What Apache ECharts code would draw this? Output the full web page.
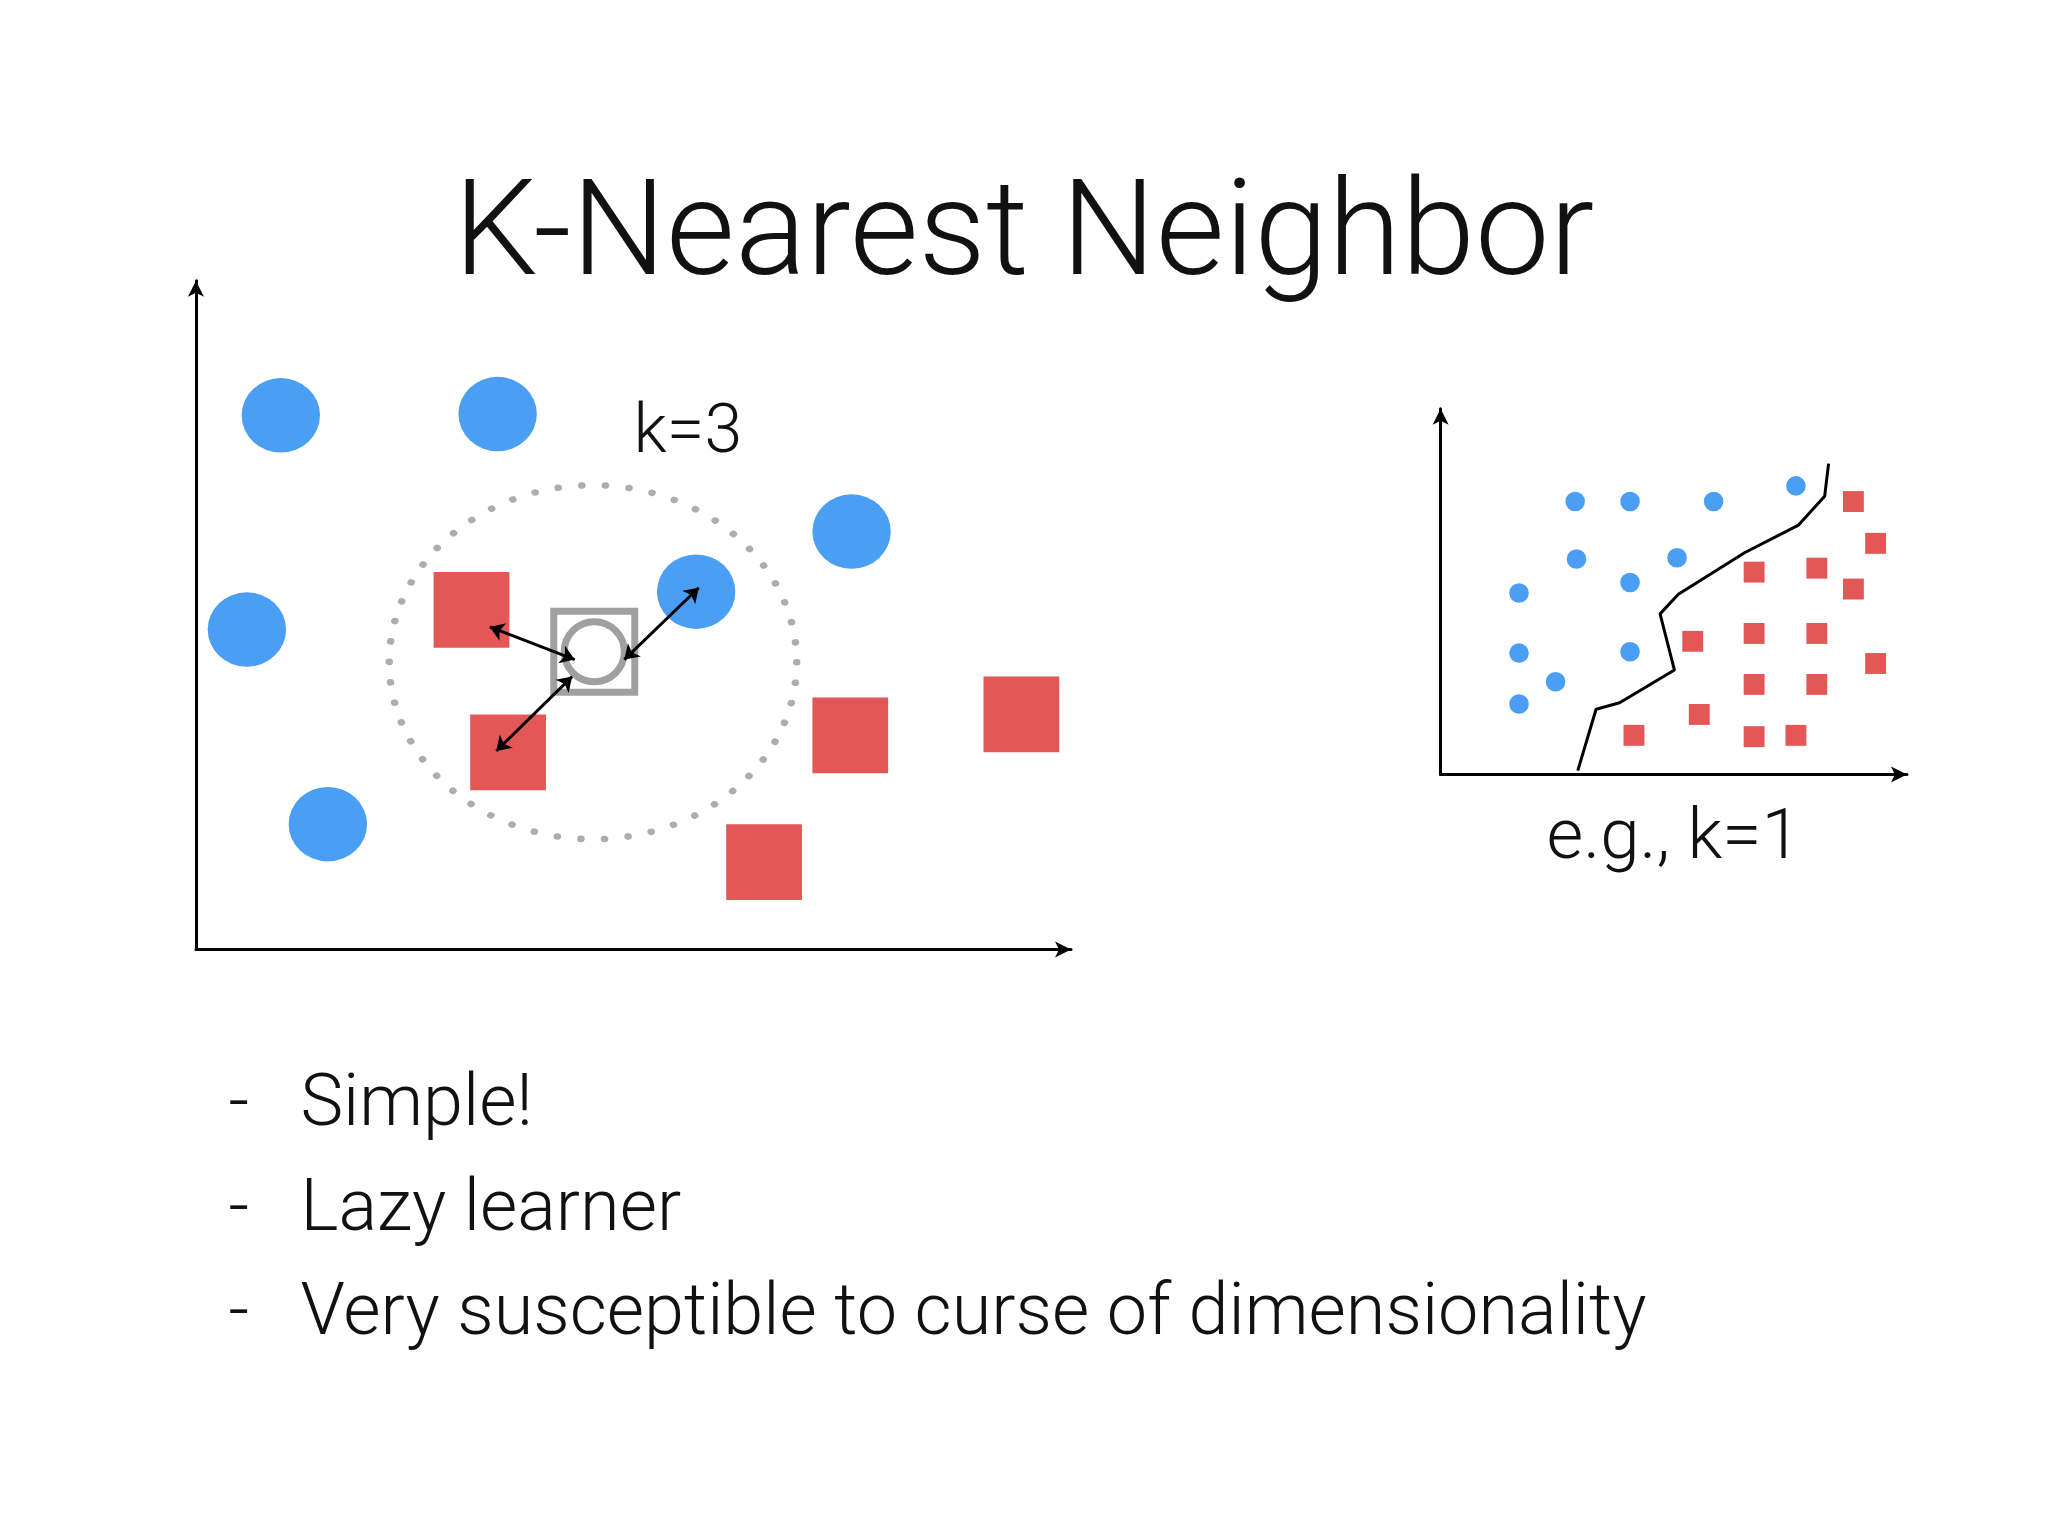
<!DOCTYPE html>
<html><head><meta charset="utf-8">
<script src="https://cdn.jsdelivr.net/npm/echarts@6/dist/echarts.min.js"></script>
<style>html,body{margin:0;background:#fff}#c{width:2048px;height:1536px}</style>
</head><body><div id="c"></div>
<script>
// Left chart (units: x 0..670, y 0..512)
const leftBlue = [[65,409],[231,410],[502,320],[39,245],[383,274],[101,96]];
const leftRed = [[211,260],[239,151],[501,164],[632,180],[435,67]];
const query = [[305,228]];
const kRing = [[304,220]];
const arrows = [[[225,247],[290,222]],[[230,152],[288,209]],[[328,222],[385,277]]];
// Right chart (units: x 0..357, y 0..280)
const rightBlue = [[103,209],[145,209],[209,209],[272,221],[104,165],[145,147],[181,166],[60,139],[60,93],[145,94],[88,71],[60,54]];
const rightRed = [[316,209],[333,177],[240,155],[288,158],[316,142],[193,102],[240,108],[288,108],[333,85],[240,69],[288,69],[198,46],[148,30],[240,29],[272,30]];
const boundary = [[105,3],[119,50],[137,55],[179,80],[168,123],[182,138],[233,170],[274,191],[294,213],[297,238]];
const bullets = ["Simple!","Lazy learner","Very susceptible to curse of dimensionality"];

const S = 2048/1568;
const BLUE = '#4A9EF4', RED = '#E45757';
const font = "Roboto, 'Liberation Sans', sans-serif";
function axes(idx){
  const line = {show:true, symbol:['none','arrow'], symbolSize:[12,16], lineStyle:{color:'#000',width:3}};
  return {
    x:{type:'value',gridIndex:idx,min:0,max:idx?357:670,axisLine:line,axisTick:{show:false},axisLabel:{show:false},splitLine:{show:false}},
    y:{type:'value',gridIndex:idx,min:0,max:idx?280:512,axisLine:line,axisTick:{show:false},axisLabel:{show:false},splitLine:{show:false}}
  };
}
const a0 = axes(0), a1 = axes(1);
const chart = echarts.init(document.getElementById('c'));
const graphics = [
  {type:'text',left:'center',top:150*S-22,style:{text:'K-Nearest Neighbor',font:`300 ${Math.round(102*S)}px ${font}`,fill:'#111'}},
  {type:'text',x:485*S,y:307*S,style:{text:'k=3',font:`300 ${Math.round(52*S)}px ${font}`,fill:'#111'}},
  {type:'text',x:1184*S,y:616*S,style:{text:'e.g., k=1',font:`300 ${Math.round(54*S)}px ${font}`,fill:'#111'}}
];
bullets.forEach((b,i)=>{
  const y=(820+i*80)*S;
  graphics.push({type:'text',x:175*S,y:y,style:{text:'-',font:`300 ${Math.round(55*S)}px ${font}`,fill:'#111'}});
  graphics.push({type:'text',x:230*S,y:y,style:{text:b,font:`300 ${Math.round(55*S)}px ${font}`,fill:'#111'}});
});
chart.setOption({
  animation:false,
  grid:[
    {left:150*S,top:215*S,width:670*S,height:512*S},
    {left:1103*S,top:313*S,width:357*S,height:280*S}
  ],
  xAxis:[a0.x,a1.x], yAxis:[a0.y,a1.y],
  graphic:graphics,
  series:[
    {type:'scatter',xAxisIndex:0,yAxisIndex:0,data:kRing,symbol:'circle',symbolSize:[312*S,271*S],z:1,
     itemStyle:{color:'transparent',borderColor:'#999',borderWidth:7,borderType:[0.1,22],borderCap:'round'}},
    {type:'scatter',xAxisIndex:0,yAxisIndex:0,data:leftBlue,symbol:'circle',symbolSize:[60*S,57*S],itemStyle:{color:BLUE,opacity:1}},
    {type:'scatter',xAxisIndex:0,yAxisIndex:0,data:leftRed,symbol:'rect',symbolSize:58*S,itemStyle:{color:RED,opacity:1}},
    {type:'scatter',xAxisIndex:0,yAxisIndex:0,data:query,symbol:'rect',symbolSize:62*S,itemStyle:{color:'transparent',borderColor:'#888',borderWidth:7}},
    {type:'scatter',xAxisIndex:0,yAxisIndex:0,data:query,symbol:'circle',symbolSize:46*S,itemStyle:{color:'#fff',borderColor:'#888',borderWidth:7}},
    {type:'lines',coordinateSystem:'cartesian2d',xAxisIndex:0,yAxisIndex:0,data:arrows.map(c=>({coords:c})),z:5,
     symbol:['arrow','arrow'],symbolSize:14,lineStyle:{color:'#000',width:3,opacity:1}},
    {type:'scatter',xAxisIndex:1,yAxisIndex:1,data:rightBlue,symbol:'circle',symbolSize:15*S,itemStyle:{color:BLUE,opacity:1}},
    {type:'scatter',xAxisIndex:1,yAxisIndex:1,data:rightRed,symbol:'rect',symbolSize:16*S,itemStyle:{color:RED,opacity:1}},
    {type:'line',xAxisIndex:1,yAxisIndex:1,data:boundary,showSymbol:false,lineStyle:{color:'#000',width:3}}
  ]
});
</script></body></html>
